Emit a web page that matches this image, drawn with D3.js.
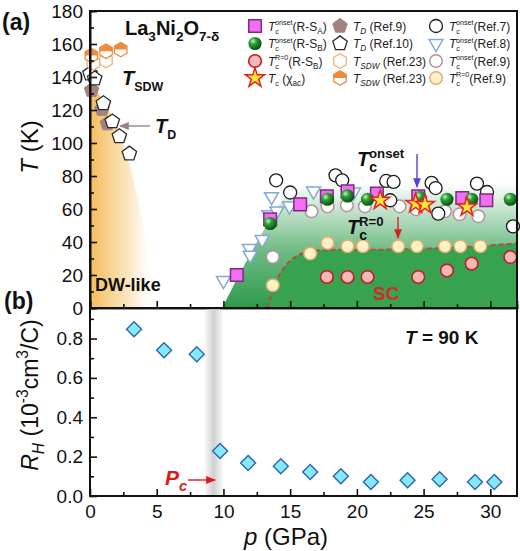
<!DOCTYPE html>
<html>
<head>
<meta charset="utf-8">
<script src="https://cdn.jsdelivr.net/npm/d3@7"></script>
<style>
  body { margin: 0; background: #fff; }
  svg { font-family: Arial, "Liberation Sans", sans-serif; }
  .axis text { font-size: 19px; fill: #111; }
  .axis path, .axis line { stroke: #111; stroke-width: 1.6; }
</style>
</head>
<body>
<div class="chart"></div>
<script>
// ---- panel (a): T vs p ----
const squareP = [11.0, 13.5, 15.75, 17.75, 19.3, 21.5, 24.6, 27.9, 29.7];
const squareT = [20, 53.7, 62.8, 67.7, 70.7, 69.3, 67.7, 66.7, 65.3];

const ballP = [13.5, 17.8, 19.3, 20.8, 24.75, 26.75, 28.6, 31.5];
const ballT = [51.2, 65.9, 67.9, 65.9, 66.9, 65.9, 65.9, 65.9];

const redP = [17.75, 19.3, 20.8, 24.6, 26.75, 28.6, 31.5];
const redT = [18.8, 18.8, 18.8, 18.8, 22.8, 26.9, 30.9];

const starP = [21.75, 24.4, 25.1, 28.25];
const starT = [65.3, 63.3, 62.7, 61.2];

const td9P = [0.12, 0.9, 1.3];
const td9T = [132, 120.5, 111.7];

const td10P = [0, 0.35, 1.0, 1.67, 2.2, 2.95];
const td10T = [142, 139, 124, 113, 104, 93.5];

const sdwOpenP = [0.25, 1.2];
const sdwOpenT = [148.5, 150];
const sdwHalfP = [0.1, 1.2, 2.3];
const sdwHalfT = [153, 155.6, 156.6];

const ref7P = [13.95, 15.0, 18.4, 18.9, 22.2, 22.75, 22.5, 25.6, 25.9, 26.1, 29.0, 29.75, 31.7];
const ref7T = [77.4, 70, 80.4, 77.4, 77, 76.4, 65.3, 75.8, 72.7, 57.2, 75.4, 70.3, 49.5];

const ref8P = [10.0, 11.95, 12.0, 12.9, 13.4, 13.6, 14.0, 14.95, 16.75, 19.75];
const ref8T = [16.6, 36, 32, 41.5, 56.5, 67.5, 58.8, 61.8, 70.9, 70.3];

const ref9onP = [13.7, 16.6, 17.8, 19.25, 20.6, 23.2, 24.45, 26.6, 27.7, 29.1];
const ref9onT = [30.9, 58.6, 61.6, 62.2, 61.6, 61.6, 59.8, 58.6, 56.8, 55.6];

const ref9r0P = [13.7, 16.5, 17.8, 19.3, 20.45, 23.1, 24.5, 26.6, 27.75, 29.25];
const ref9r0T = [13.8, 33, 39.4, 37.4, 37.4, 37.4, 37.4, 37.4, 37.4, 37.4];

// phase boundaries
const dwEdgeP = [0, 1, 2, 3, 4, 5.0, 0];
const dwEdgeT = [136, 126, 110, 86, 52, 0, 0];
const scOuterP = [9.9, 13.3, 14.3, 15.3, 16.5, 32, 32];
const scOuterT = [0, 51, 64, 71, 75, 76, 0];
const scLineP = [13.3, 13.6, 14.2, 14.8, 15.6, 16.6, 18, 22, 26, 29, 32];
const scLineT = [0, 8, 20, 27, 32, 34.5, 35.3, 35.5, 36.3, 37.5, 39.2];

// ---- panel (b): Hall coefficient at 90 K ----
const hallP = [3.3, 5.55, 8.0, 9.75, 11.85, 14.3, 16.5, 18.8, 21.05, 23.8, 26.2, 28.85, 30.3];
const hallRH = [0.847, 0.74, 0.72, 0.229, 0.168, 0.151, 0.122, 0.10, 0.071, 0.08, 0.085, 0.071, 0.071];

const xTicks = [0, 5, 10, 15, 20, 25, 30];
const tTicks = [0, 20, 40, 60, 80, 100, 120, 140, 160, 180];
const rhTicks = [0, 0.2, 0.4, 0.6, 0.8];

const zip = (a, b) => a.map((v, i) => [v, b[i]]);

const margin = {top: 11, right: 3, bottom: 55, left: 90},
    width = 520 - margin.left - margin.right,
    topH = 297,
    botH = 188;

const svg = d3.select(".chart").append("svg")
    .attr("width", 520)
    .attr("height", 551);

const defs = svg.append("defs");

const dwGrad = defs.append("linearGradient").attr("id", "dwGrad")
    .attr("x1", "0").attr("x2", "1").attr("y1", "0").attr("y2", "0");
dwGrad.append("stop").attr("offset", "0%").attr("stop-color", "#f5bd5c");
dwGrad.append("stop").attr("offset", "30%").attr("stop-color", "#f8d393");
dwGrad.append("stop").attr("offset", "65%").attr("stop-color", "#fcecd0");
dwGrad.append("stop").attr("offset", "100%").attr("stop-color", "#ffffff").attr("stop-opacity", 0);

const scGrad = defs.append("linearGradient").attr("id", "scGrad")
    .attr("x1", "0").attr("x2", "0").attr("y1", "1").attr("y2", "0");
scGrad.append("stop").attr("offset", "0%").attr("stop-color", "#2f9a4c");
scGrad.append("stop").attr("offset", "45%").attr("stop-color", "#6dba82");
scGrad.append("stop").attr("offset", "100%").attr("stop-color", "#ffffff");

const ballGrad = defs.append("radialGradient").attr("id", "ballGrad")
    .attr("cx", "35%").attr("cy", "32%").attr("r", "70%");
ballGrad.append("stop").attr("offset", "0%").attr("stop-color", "#c8f5c0");
ballGrad.append("stop").attr("offset", "35%").attr("stop-color", "#2fa23a");
ballGrad.append("stop").attr("offset", "100%").attr("stop-color", "#064d10");

const bandGrad = defs.append("linearGradient").attr("id", "bandGrad")
    .attr("x1", "0").attr("x2", "1");
bandGrad.append("stop").attr("offset", "0%").attr("stop-color", "#d8d8d8").attr("stop-opacity", 0.2);
bandGrad.append("stop").attr("offset", "50%").attr("stop-color", "#cfcfcf");
bandGrad.append("stop").attr("offset", "100%").attr("stop-color", "#d8d8d8").attr("stop-opacity", 0.2);

function arrowHead(id, color) {
  defs.append("marker").attr("id", id)
      .attr("viewBox", "0 0 10 10").attr("refX", 9).attr("refY", 5)
      .attr("markerWidth", 7).attr("markerHeight", 7).attr("orient", "auto")
      .append("path").attr("d", "M0,1 L10,5 L0,9 Z").attr("fill", color);
}
arrowHead("arPurple", "#5a3fd6");
arrowHead("arRed", "#d82020");
arrowHead("arMauve", "#9c8088");
arrowHead("arPc", "#e01818");

const xScale = d3.scaleLinear().domain([0, 32]).range([0, width]);
const yT = d3.scaleLinear().domain([0, 180]).range([topH, 0]);
const yR = d3.scaleLinear().domain([0, 0.955]).range([botH, 0]);

// custom shapes
function polyPath(n, r, rot) {
  const pts = d3.range(n).map(i => {
    const a = rot + i * 2 * Math.PI / n;
    return [r * Math.cos(a), r * Math.sin(a)];
  });
  return "M" + pts.map(p => p.join(",")).join("L") + "Z";
}
const pentagon = polyPath(5, 7.6, -Math.PI / 2);
const hexagon = polyPath(6, 7.2, -Math.PI / 2);
const triDown = polyPath(3, 8, Math.PI / 2);
const square = "M-6.3,-6.3H6.3V6.3H-6.3Z";
const star = d3.symbol(d3.symbolStar, 115)();

function rich(sel, parts, fs) {
  let cur = 0;
  parts.forEach(p => {
    const off = p.s === "sub" ? 0.28 * fs : p.s === "sup" ? -0.42 * fs : 0;
    sel.append("tspan")
        .attr("dy", off - cur)
        .attr("dx", p.dx || 0)
        .attr("font-size", p.s ? fs * (p.k || 0.68) : fs)
        .attr("font-style", p.i ? "italic" : null)
        .attr("font-weight", p.b ? "bold" : null)
        .text(p.t);
    cur = off;
  });
}

// marker painters
const styles = {
  square: g => g.append("path").attr("d", square).attr("fill", "#f26ef2").attr("stroke", "#7d2a86").attr("stroke-width", 1.5),
  ball: g => g.append("circle").attr("r", 6.6).attr("fill", "url(#ballGrad)"),
  red: g => g.append("circle").attr("r", 6.3).attr("fill", "#f6b7b9").attr("stroke", "#c01d22").attr("stroke-width", 1.6),
  star: g => g.append("path").attr("d", star).attr("fill", "#ffe23c").attr("stroke", "#e4221e").attr("stroke-width", 1.5),
  td9: g => g.append("path").attr("d", pentagon).attr("fill", "#a6807f").attr("stroke", "#a6807f"),
  td10: g => g.append("path").attr("d", pentagon).attr("fill", "#fff").attr("stroke", "#2c2a24").attr("stroke-width", 1.3),
  sdwOpen: g => g.append("path").attr("d", hexagon).attr("fill", "#fff").attr("stroke", "#f4b27a").attr("stroke-width", 1.3),
  sdwHalf: g => {
    g.append("path").attr("d", hexagon).attr("fill", "#fff").attr("stroke", "#f08a3e").attr("stroke-width", 1.3);
    g.append("path").attr("d", "M0,-7.2L6.24,-3.6L6.24,0L-6.24,0L-6.24,-3.6Z").attr("fill", "#f08a3e");
  },
  ref7: g => g.append("circle").attr("r", 6.5).attr("fill", "#fff").attr("stroke", "#1c1c1c").attr("stroke-width", 1.3),
  ref8: g => g.append("path").attr("d", triDown).attr("fill", "#fff").attr("stroke", "#86a6d6").attr("stroke-width", 1.5),
  ref9on: g => g.append("circle").attr("r", 6.3).attr("fill", "#fff").attr("stroke", "#b49298").attr("stroke-width", 1.5),
  ref9r0: g => g.append("circle").attr("r", 6.3).attr("fill", "#fff1c6").attr("stroke", "#e0ad73").attr("stroke-width", 1.5)
};

// ================= panel (a) =================
const gA = svg.append("g").attr("transform", `translate(${margin.left},${margin.top})`);

const area = d3.line().x(d => xScale(d[0])).y(d => yT(d[1]));

gA.append("path").datum(zip(dwEdgeP, dwEdgeT))
    .attr("d", d => area(d) + "Z")
    .attr("fill", "url(#dwGrad)");

gA.append("path").datum(zip(scOuterP, scOuterT))
    .attr("d", d3.line().curve(d3.curveMonotoneX).x(d => xScale(d[0])).y(d => yT(d[1])))
    .attr("fill", "url(#scGrad)");

const scLine = d3.line().curve(d3.curveCatmullRom).x(d => xScale(d[0])).y(d => yT(d[1]));
const scPts = zip(scLineP, scLineT);
gA.append("path")
    .attr("d", scLine(scPts) + `L${xScale(32)},${yT(0)}Z`)
    .attr("fill", "#37a24f");
gA.append("path")
    .attr("d", scLine(scPts))
    .attr("fill", "none").attr("stroke", "#d33a32").attr("stroke-width", 1.6)
    .attr("stroke-dasharray", "5,3");

function drawSeries(g, ps, vs, y, kind) {
  g.append("g").selectAll("g")
    .data(zip(ps, vs))
    .join("g")
    .attr("transform", d => `translate(${xScale(d[0])},${y(d[1])})`)
    .each(function() { styles[kind](d3.select(this)); });
}

drawSeries(gA, ref9onP, ref9onT, yT, "ref9on");
drawSeries(gA, ref9r0P, ref9r0T, yT, "ref9r0");
drawSeries(gA, ref7P, ref7T, yT, "ref7");
drawSeries(gA, ref8P, ref8T, yT, "ref8");
drawSeries(gA, td9P, td9T, yT, "td9");
drawSeries(gA, td10P, td10T, yT, "td10");
drawSeries(gA, sdwOpenP, sdwOpenT, yT, "sdwOpen");
drawSeries(gA, sdwHalfP, sdwHalfT, yT, "sdwHalf");
drawSeries(gA, squareP, squareT, yT, "square");
drawSeries(gA, ballP, ballT, yT, "ball");
drawSeries(gA, redP, redT, yT, "red");
drawSeries(gA, starP, starT, yT, "star");

// axes panel a
gA.append("g").attr("class", "axis")
    .call(d3.axisLeft(yT).tickValues(tTicks).tickSize(-7).tickPadding(7));
gA.append("g").attr("class", "axis")
    .call(d3.axisLeft(yT).tickValues(d3.range(10, 180, 20)).tickSize(-4).tickFormat(""));
gA.append("g").attr("class", "axis")
    .attr("transform", `translate(0,${topH})`)
    .call(d3.axisBottom(xScale).tickValues(xTicks).tickSize(-7).tickFormat(""));
gA.append("g").attr("class", "axis")
    .attr("transform", `translate(0,${topH})`)
    .call(d3.axisBottom(xScale).tickValues(d3.range(2.5, 32, 5)).tickSize(-4).tickFormat(""));
gA.append("rect").attr("width", width).attr("height", topH)
    .attr("fill", "none").attr("stroke", "#111").attr("stroke-width", 2);

// annotations panel a
const ann = (g, x, y, parts, fs, color, anchor) => {
  const t = g.append("text").attr("x", x).attr("y", y)
      .attr("font-weight", "bold").attr("fill", color || "#111")
      .attr("text-anchor", anchor || "start");
  rich(t, parts, fs);
  return t;
};

ann(gA, 35, 24, [{t: "La"}, {t: "3", s: "sub"}, {t: "Ni"}, {t: "2", s: "sub"}, {t: "O"}, {t: "7-δ", s: "sub"}], 20);
ann(gA, 32, 74, [{t: "T", i: 1}, {t: "SDW", s: "sub", k: 0.62}], 20);
ann(gA, 65, 122, [{t: "T", i: 1}, {t: "D", s: "sub", k: 0.62}], 20);
ann(gA, 5, 280, [{t: "DW-like"}], 18);
ann(gA, 267, 155, [{t: "T", i: 1}, {t: "c", s: "sub", k: 0.7}, {t: "onset", s: "sup", dx: -8, k: 0.66}], 20);
ann(gA, 257, 223, [{t: "T", i: 1}, {t: "c", s: "sub", k: 0.7}, {t: "R=0", s: "sup", dx: -8, k: 0.66}], 20);
ann(gA, 283, 289, [{t: "SC"}], 19, "#d42a2a");

gA.append("line").attr("x1", 327).attr("y1", 143).attr("x2", 327).attr("y2", 176)
    .attr("stroke", "#5a3fd6").attr("stroke-width", 1.4).attr("marker-end", "url(#arPurple)");
gA.append("line").attr("x1", 308).attr("y1", 206).attr("x2", 308).attr("y2", 227)
    .attr("stroke", "#d82020").attr("stroke-width", 1.4).attr("marker-end", "url(#arRed)");
gA.append("line").attr("x1", 60).attr("y1", 115).attr("x2", 30).attr("y2", 115)
    .attr("stroke", "#9c8088").attr("stroke-width", 1.4).attr("marker-end", "url(#arMauve)");

// legend
const legRows = [15, 32.5, 50, 67];
const legend = [
  {x: 165, kind: "square", parts: [{t: "T", i: 1}, {t: "c", s: "sub", k: 0.6}, {t: "onset", s: "sup", dx: -4, k: 0.6}, {t: "(R-S"}, {t: "A", s: "sub"}, {t: ")"}]},
  {x: 165, kind: "ball", parts: [{t: "T", i: 1}, {t: "c", s: "sub", k: 0.6}, {t: "onset", s: "sup", dx: -4, k: 0.6}, {t: "(R-S"}, {t: "B", s: "sub"}, {t: ")"}]},
  {x: 165, kind: "red", parts: [{t: "T", i: 1}, {t: "c", s: "sub", k: 0.6}, {t: "R=0", s: "sup", dx: -4, k: 0.6}, {t: "(R-S"}, {t: "B", s: "sub"}, {t: ")"}]},
  {x: 165, kind: "star", parts: [{t: "T", i: 1}, {t: "c", s: "sub", k: 0.6}, {t: " (χ"}, {t: "ac", s: "sub"}, {t: ")"}]},
  {x: 250, kind: "td9", parts: [{t: "T", i: 1}, {t: "D", s: "sub", i: 1}, {t: " (Ref.9)"}]},
  {x: 250, kind: "td10", parts: [{t: "T", i: 1}, {t: "D", s: "sub", i: 1}, {t: " (Ref.10)"}]},
  {x: 250, kind: "sdwOpen", parts: [{t: "T", i: 1}, {t: "SDW", s: "sub", i: 1}, {t: " (Ref.23)"}]},
  {x: 250, kind: "sdwHalf", parts: [{t: "T", i: 1}, {t: "SDW", s: "sub", i: 1}, {t: " (Ref.23)"}]},
  {x: 346, kind: "ref7", parts: [{t: "T", i: 1}, {t: "c", s: "sub", k: 0.6}, {t: "onset", s: "sup", dx: -4, k: 0.6}, {t: "(Ref.7)"}]},
  {x: 346, kind: "ref8", parts: [{t: "T", i: 1}, {t: "c", s: "sub", k: 0.6}, {t: "onset", s: "sup", dx: -4, k: 0.6}, {t: "(Ref.8)"}]},
  {x: 346, kind: "ref9on", parts: [{t: "T", i: 1}, {t: "c", s: "sub", k: 0.6}, {t: "onset", s: "sup", dx: -4, k: 0.6}, {t: "(Ref.9)"}]},
  {x: 346, kind: "ref9r0", parts: [{t: "T", i: 1}, {t: "c", s: "sub", k: 0.6}, {t: "R=0", s: "sup", dx: -4, k: 0.6}, {t: "(Ref.9)"}]}
];
legend.forEach((d, i) => {
  const y = legRows[i % 4];
  const m = gA.append("g").attr("transform", `translate(${d.x},${y})`);
  styles[d.kind](m);
  const t = gA.append("text").attr("x", d.x + 13).attr("y", y + 4.5).attr("fill", "#222");
  rich(t, d.parts, 12);
});

// ================= panel (b) =================
const gB = svg.append("g").attr("transform", `translate(${margin.left},${margin.top + topH})`);

gB.append("rect")
    .attr("x", xScale(8.6)).attr("width", xScale(9.95) - xScale(8.6))
    .attr("height", botH).attr("fill", "url(#bandGrad)");

gB.append("g").selectAll("path")
    .data(zip(hallP, hallRH))
    .join("path")
    .attr("d", "M0,-7.5L7.5,0L0,7.5L-7.5,0Z")
    .attr("transform", d => `translate(${xScale(d[0])},${yR(d[1])})`)
    .attr("fill", "#86e9fa").attr("stroke", "#2b66b2").attr("stroke-width", 1.4);

gB.append("g").attr("class", "axis")
    .call(d3.axisLeft(yR).tickValues(rhTicks).tickSize(-7).tickPadding(7).tickFormat(d3.format(".1f")));
gB.append("g").attr("class", "axis")
    .call(d3.axisLeft(yR).tickValues([0.1, 0.3, 0.5, 0.7, 0.9]).tickSize(-4).tickFormat(""));
gB.append("g").attr("class", "axis")
    .attr("transform", `translate(0,${botH})`)
    .call(d3.axisBottom(xScale).tickValues(xTicks).tickSize(-7).tickPadding(9));
gB.append("g").attr("class", "axis")
    .attr("transform", `translate(0,${botH})`)
    .call(d3.axisBottom(xScale).tickValues(d3.range(2.5, 32, 5)).tickSize(-4).tickFormat(""));
gB.selectAll(".axis .domain").remove();
gB.append("rect").attr("width", width).attr("height", botH)
    .attr("fill", "none").attr("stroke", "#111").attr("stroke-width", 2);

ann(gB, 315, 36, [{t: "T", i: 1}, {t: " = 90 K"}], 19);
ann(gB, 75, 177, [{t: "P", i: 1}, {t: "c", s: "sub", i: 1, k: 0.7}], 21, "#e01818");
gB.append("line").attr("x1", 98).attr("y1", 172).attr("x2", 125).attr("y2", 172)
    .attr("stroke", "#e01818").attr("stroke-width", 1.4).attr("marker-end", "url(#arPc)");

// ================= labels =================
ann(svg, 2, 30, [{t: "(a)"}], 23);
ann(svg, 4, 309, [{t: "(b)"}], 23);

const yLab1 = svg.append("text").attr("transform", "translate(38,147) rotate(-90)")
    .attr("text-anchor", "middle").attr("fill", "#111");
rich(yLab1, [{t: "T", i: 1}, {t: " (K)"}], 24);

const yLab2 = svg.append("text").attr("transform", "translate(38,395) rotate(-90)")
    .attr("text-anchor", "middle").attr("fill", "#111");
rich(yLab2, [{t: "R", i: 1}, {t: "H", s: "sub", i: 1}, {t: " (10"}, {t: "-3", s: "sup"}, {t: "cm"}, {t: "3", s: "sup"}, {t: "/C)"}], 23);

const xLab = svg.append("text").attr("x", 286).attr("y", 545)
    .attr("text-anchor", "middle").attr("fill", "#111");
rich(xLab, [{t: "p", i: 1}, {t: " (GPa)"}], 24);
</script>
</body>
</html>
